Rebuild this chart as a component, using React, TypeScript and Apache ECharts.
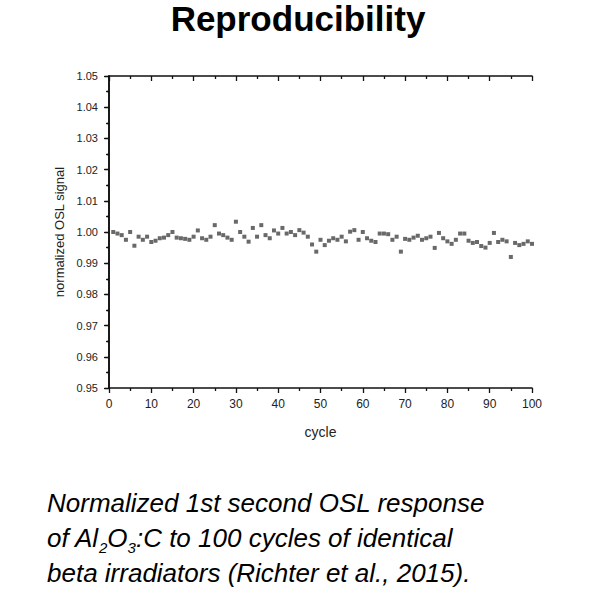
import React, { useEffect, useRef } from 'react';
import * as echarts from 'echarts';

type EChartsOption = echarts.EChartsOption;

// normalized OSL signal per cycle (cycles 1..100)
const cycles: number[] = Array.from({ length: 100 }, (_, i) => i + 1);
const signal: number[] = [
  1.0, 0.9995, 0.999, 0.9975, 1.0, 0.9956, 0.9985, 0.9975, 0.9985, 0.9968,
  0.9972, 0.998, 0.9982, 0.999, 1.0, 0.9982, 0.998, 0.9978, 0.9975, 0.9985,
  1.0005, 0.998, 0.9975, 0.9985, 1.0022, 0.9995, 0.999, 0.9982, 0.9975, 1.0033,
  1.0, 0.9985, 0.9969, 1.0013, 0.9985, 1.0022, 0.999, 0.998, 1.0005, 0.9995,
  1.0013, 0.9995, 1.0, 0.999, 1.0006, 0.9998, 0.9985, 0.996, 0.9937, 0.9975,
  0.9958, 0.9972, 0.998, 0.9975, 0.9985, 0.997, 1.0001, 1.0006, 0.9975, 1.0,
  0.998, 0.9972, 0.9968, 0.9995, 0.9995, 0.9993, 0.9975, 0.9985, 0.9937, 0.9978,
  0.9975, 0.9982, 0.9988, 0.9975, 0.998, 0.9985, 0.9949, 0.9997, 0.998, 0.997,
  0.9962, 0.9975, 0.9995, 0.9995, 0.9972, 0.9965, 0.9968, 0.9955, 0.995, 0.9965,
  0.9997, 0.9968, 0.9975, 0.997, 0.992, 0.9965, 0.9958, 0.9962, 0.997, 0.9962,
];

const titleText = 'Reproducibility';
const xName = 'cycle';
const yName = 'normalized OSL signal';

const font = 'Liberation Sans, Arial, sans-serif';

const App: React.FC = () => {
  const chartRef = useRef<HTMLDivElement | null>(null);

  useEffect(() => {
    if (!chartRef.current) return;
    const chart = echarts.init(chartRef.current, undefined, { renderer: 'svg' });

    const frameLine = { show: true, lineStyle: { color: '#111', width: 1.6 } };
    const tickStyle = { color: '#111', width: 1.3 };

    const option: EChartsOption = {
      animation: false,
      backgroundColor: '#fff',
      textStyle: { fontFamily: font },
      grid: { left: 109, right: 64, top: 76, bottom: 208 },
      xAxis: [
        {
          type: 'value',
          min: 0,
          max: 100,
          interval: 10,
          axisLine: frameLine,
          axisTick: { show: true, inside: false, length: 5, lineStyle: tickStyle },
          minorTick: { show: true, splitNumber: 2, length: 3, lineStyle: tickStyle },
          axisLabel: { color: '#222', fontSize: 12, margin: 10 },
          splitLine: { show: false },
          name: xName,
          nameLocation: 'middle',
          nameGap: 37,
          nameTextStyle: { color: '#222', fontSize: 14 },
        },
        {
          type: 'value',
          position: 'top',
          min: 0,
          max: 100,
          interval: 10,
          axisLine: frameLine,
          axisTick: { show: true, inside: true, length: 5, lineStyle: tickStyle },
          minorTick: { show: true, splitNumber: 2, length: 3, lineStyle: tickStyle },
          axisLabel: { show: false },
          splitLine: { show: false },
        },
      ],
      yAxis: [
        {
          type: 'value',
          min: 0.95,
          max: 1.05,
          interval: 0.01,
          axisLine: frameLine,
          axisTick: { show: true, inside: false, length: 5, lineStyle: tickStyle },
          minorTick: { show: true, splitNumber: 2, length: 3, lineStyle: tickStyle },
          axisLabel: {
            color: '#222',
            fontSize: 11,
            margin: 11,
            formatter: (v: number) => v.toFixed(2),
          },
          splitLine: { show: false },
          name: yName,
          nameLocation: 'middle',
          nameGap: 43,
          nameRotate: 90,
          nameTextStyle: { color: '#222', fontSize: 13 },
        },
        {
          type: 'value',
          position: 'right',
          min: 0.95,
          max: 1.05,
          interval: 0.01,
          axisLine: frameLine,
          axisTick: { show: true, inside: true, length: 4, lineStyle: tickStyle },
          minorTick: { show: true, splitNumber: 2, length: 2, lineStyle: tickStyle },
          axisLabel: { show: false },
          splitLine: { show: false },
        },
      ],
      series: [
        {
          type: 'scatter',
          xAxisIndex: 0,
          yAxisIndex: 0,
          data: cycles.map((c, i) => [c, signal[i]]),
          symbol: 'rect',
          symbolSize: 4,
          itemStyle: { color: '#444' },
        },
      ],
      graphic: [
        {
          type: 'text',
          left: 'center',
          top: 1,
          style: {
            text: titleText,
            font: `bold 35px ${font}`,
            fill: '#000',
          },
        },
        {
          type: 'text',
          left: 47,
          top: 485,
          style: {
            text: 'Normalized 1st second OSL response\nof Al{sub|2}O{sub|3}:C to 100 cycles of identical\nbeta irradiators (Richter et al., 2015).',
            fontFamily: font,
            fontStyle: 'italic',
            fontSize: 26,
            lineHeight: 35,
            fill: '#000',
            rich: {
              sub: {
                fontFamily: font,
                fontStyle: 'italic',
                fontSize: 15,
                lineHeight: 12,
                verticalAlign: 'bottom',
                fill: '#000',
              },
            },
          },
        },
      ],
    };

    chart.setOption(option);
    return () => {
      chart.dispose();
    };
  }, []);

  return (
    <div
      ref={chartRef}
      style={{ position: 'absolute', left: 0, top: 0, width: '596px', height: '596px' }}
    />
  );
};

export default App;
